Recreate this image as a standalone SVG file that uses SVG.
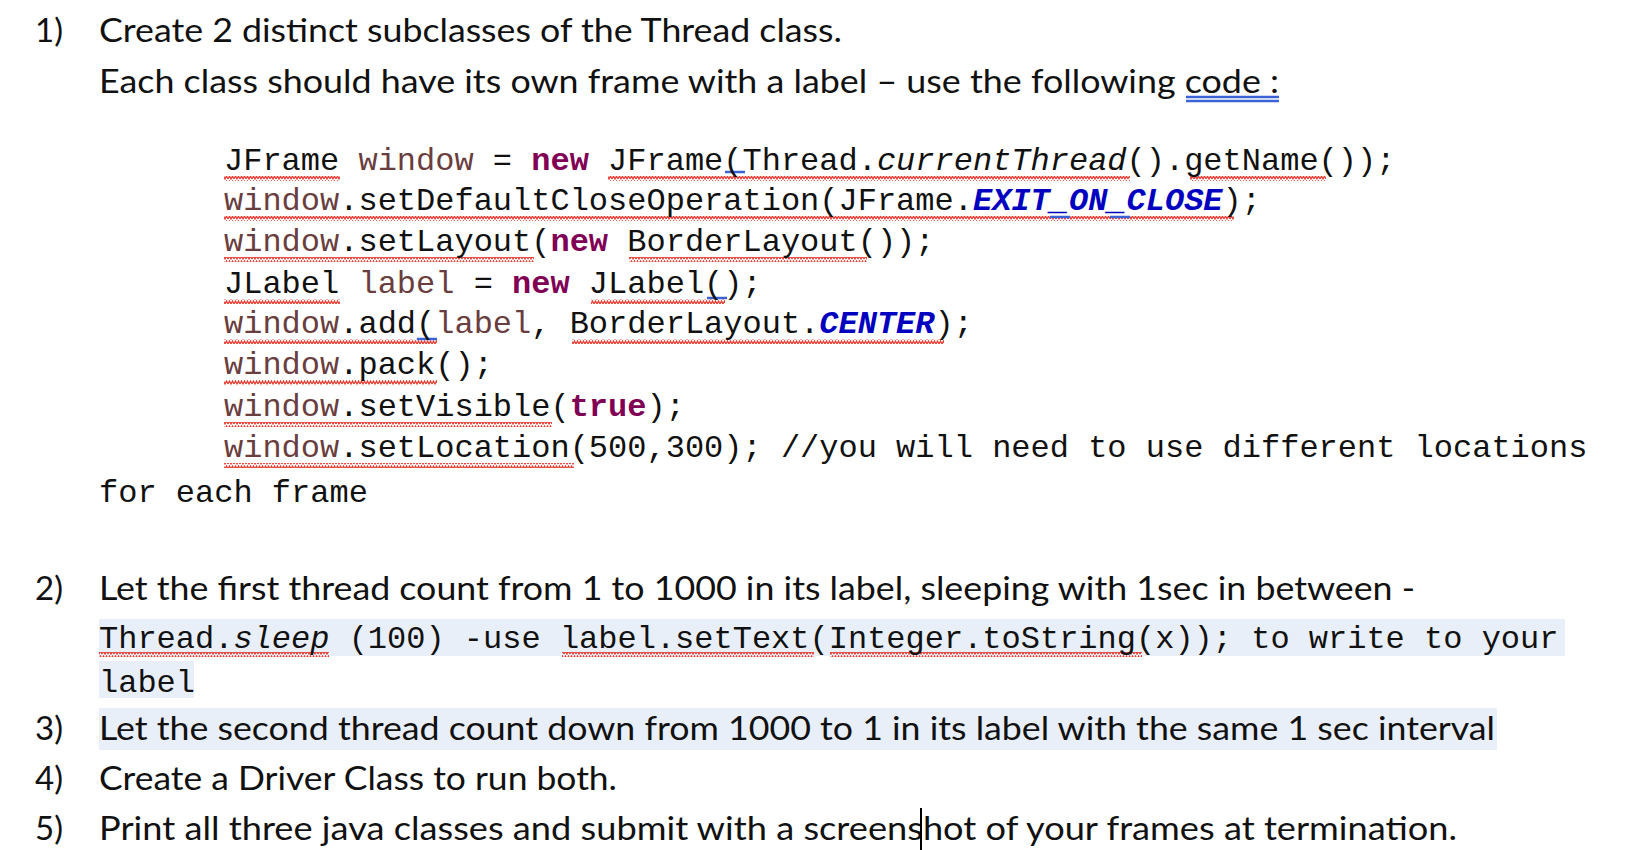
<svg xmlns="http://www.w3.org/2000/svg" width="1630" height="850" viewBox="0 0 1630 850">
<defs>
<pattern id="sq" width="6" height="5" patternUnits="userSpaceOnUse"><path d="M0,4 L1.5,1 L3,4 L4.5,1 L6,4" fill="none" stroke="#e8372c" stroke-width="1.2"/></pattern>
</defs>
<style>
.t{font-family:Lato,"Open Sans",sans-serif;font-size:33px;fill:#111}
.c{font-family:"Liberation Mono","DejaVu Sans Mono",monospace;font-size:32px;fill:#111}
.v{fill:#6a3e3e}.k{fill:#7f0055;font-weight:bold}.s{fill:#0000c0;font-weight:bold;font-style:italic}.i{font-style:italic}
.w{fill:url(#sq)}
</style>
<rect width="1630" height="850" fill="#fff"/>
<g id="highlights" fill="#e9eff9">
<rect x="99" y="619" width="1466" height="37"/>
<rect x="99" y="661" width="95" height="37"/>
<rect x="99" y="708" width="1398" height="42"/>
</g>
<g id="squiggles">
<rect class="w" x="224" y="176" width="116" height="5"/>
<rect class="w" x="608" y="176" width="522" height="5"/>
<rect class="w" x="1190" y="176" width="136" height="5"/>
<rect class="w" x="224" y="216" width="1010" height="5"/>
<rect class="w" x="224" y="257" width="310" height="5"/>
<rect class="w" x="629" y="257" width="238" height="5"/>
<rect class="w" x="224" y="299" width="116" height="5"/>
<rect class="w" x="591" y="299" width="134" height="5"/>
<rect class="w" x="224" y="339" width="213" height="5"/>
<rect class="w" x="572" y="339" width="372" height="5"/>
<rect class="w" x="224" y="380" width="213" height="5"/>
<rect class="w" x="224" y="422" width="328" height="5"/>
<rect class="w" x="224" y="463" width="350" height="5"/>
<rect class="w" x="99" y="652" width="230" height="5"/>
<rect class="w" x="562" y="652" width="252" height="5"/>
<rect class="w" x="830" y="652" width="312" height="5"/>
</g>
<g id="blue-marks" stroke="#3b63d6" stroke-width="2.5">
<line x1="1186" y1="97" x2="1279" y2="97"/><line x1="1186" y1="101" x2="1279" y2="101"/>
<line x1="725" y1="172" x2="745" y2="172"/><line x1="707" y1="298" x2="727" y2="298"/><line x1="417" y1="339" x2="437" y2="339"/>
<line x1="1050" y1="217" x2="1070" y2="217"/><line x1="1110" y1="217" x2="1130" y2="217"/>
</g>
<g id="text1">
<text class="t" x="35" y="42">1)</text>
<text class="t" x="99" y="42" textLength="743" lengthAdjust="spacingAndGlyphs">Create 2 distinct subclasses of the Thread class.</text>
<text class="t" x="99" y="93" textLength="1180" lengthAdjust="spacingAndGlyphs">Each class should have its own frame with a label – use the following code :</text>
</g>
<g id="code">
<text class="c" x="224" y="170">JFrame <tspan class="v">window</tspan> = <tspan class="k">new</tspan> JFrame(Thread.<tspan class="i">currentThread</tspan>().getName());</text>
<text class="c" x="224" y="210"><tspan class="v">window</tspan>.setDefaultCloseOperation(JFrame.<tspan class="s">EXIT_ON_CLOSE</tspan>);</text>
<text class="c" x="224" y="251"><tspan class="v">window</tspan>.setLayout(<tspan class="k">new</tspan> BorderLayout());</text>
<text class="c" x="224" y="293">JLabel <tspan class="v">label</tspan> = <tspan class="k">new</tspan> JLabel();</text>
<text class="c" x="224" y="333"><tspan class="v">window</tspan>.add(<tspan class="v">label</tspan>, BorderLayout.<tspan class="s">CENTER</tspan>);</text>
<text class="c" x="224" y="374"><tspan class="v">window</tspan>.pack();</text>
<text class="c" x="224" y="416"><tspan class="v">window</tspan>.setVisible(<tspan class="k">true</tspan>);</text>
<text class="c" x="224" y="457"><tspan class="v">window</tspan>.setLocation(500,300); //you will need to use different locations</text>
<text class="c" x="99" y="502">for each frame</text>
</g>
<g id="text2">
<text class="t" x="35" y="600">2)</text>
<text class="t" x="99" y="600" textLength="1316" lengthAdjust="spacingAndGlyphs">Let the first thread count from 1 to 1000 in its label, sleeping with 1sec in between -</text>
<text class="c" x="99" y="648">Thread.<tspan class="i">sleep</tspan> (100) -use label.setText(Integer.toString(x)); to write to your</text>
<text class="c" x="99" y="692">label</text>
<text class="t" x="35" y="740">3)</text>
<text class="t" x="99" y="740" textLength="1396" lengthAdjust="spacingAndGlyphs">Let the second thread count down from 1000 to 1 in its label with the same 1 sec interval</text>
<text class="t" x="35" y="790">4)</text>
<text class="t" x="99" y="790" textLength="518" lengthAdjust="spacingAndGlyphs">Create a Driver Class to run both.</text>
<text class="t" x="35" y="840">5)</text>
<text class="t" x="99" y="840" textLength="1358" lengthAdjust="spacingAndGlyphs">Print all three java classes and submit with a screenshot of your frames at termination.</text>
<line x1="921" y1="808" x2="921" y2="850" stroke="#000" stroke-width="2"/>
</g>
</svg>
